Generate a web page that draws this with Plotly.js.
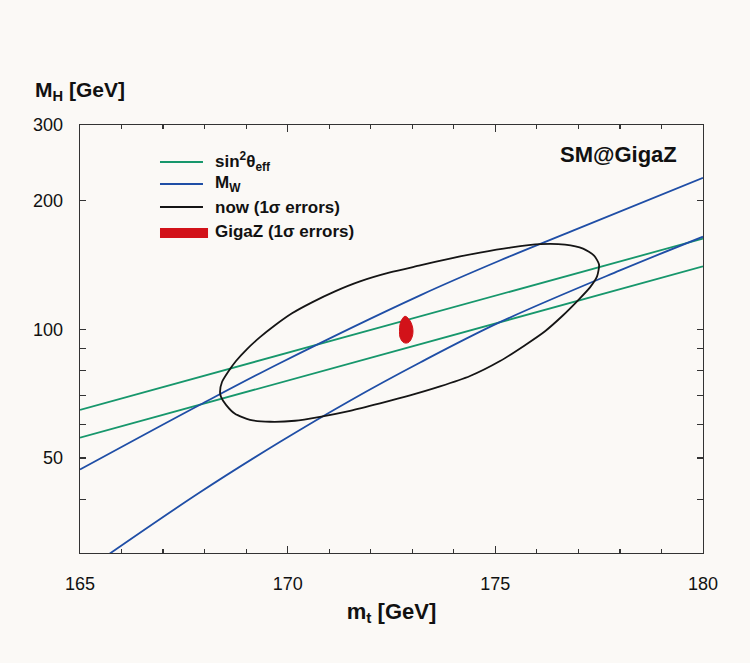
<!DOCTYPE html>
<html>
<head>
<meta charset="utf-8">
<script src="https://cdn.plot.ly/plotly-3.0.1.min.js"></script>
<style>html,body{margin:0;padding:0;background:#fbf9f6;}#chart{width:750px;height:663px;}</style>
</head>
<body>
<div id="chart"></div>
<script>
// m_t [GeV] sample points and M_H [GeV] values
const sinMt = [165, 167.5, 170, 172.5, 175, 177.5, 180];
const sinUpper = [64.8, 75.6, 88.1, 102.7, 119.7, 139.6, 162.8];
const sinLower = [55.8, 65.1, 75.9, 88.4, 103.1, 120.2, 140.2];

const mwUpperMt = [165, 167.89, 169.82, 173.19, 175.11, 176.87, 180];
const mwUpperMH = [47.0, 66.6, 83.4, 120.0, 144.7, 169.9, 225.7];
const mwLowerMt = [165.48, 167.89, 169.82, 171.50, 173.19, 175.11, 178.00, 180];
const mwLowerMH = [28.83, 41.59, 54.58, 68.08, 83.61, 103.87, 137.18, 164.5];

const nowMt = [168.371, 168.419, 168.564, 168.756, 169.021, 169.334, 169.695, 170.105, 170.586, 171.140, 171.742, 172.464, 173.187,
               173.909, 174.631, 175.354, 176.076, 176.678, 177.112, 177.377, 177.497,
               177.449, 177.280, 176.991, 176.606, 176.197, 175.715, 175.113, 174.391, 173.669, 172.946, 172.224, 171.501, 170.779,
               170.177, 169.575, 169.093, 168.732, 168.516, 168.395, 168.371];
const nowMH = [71.38, 75.28, 79.43, 84.26, 89.85, 95.81, 102.16, 108.95, 115.56, 122.58, 129.32, 135.70, 140.89,
               146.27, 151.05, 155.15, 158.09, 157.66, 154.32, 148.62, 141.64,
               132.84, 125.25, 116.81, 107.20, 98.93, 91.79, 84.26, 77.74, 73.50, 70.04, 67.11, 64.47, 62.43,
               61.11, 60.79, 61.41, 63.43, 66.57, 69.49, 71.38];

const gigaMt = [172.826, 172.922, 172.994, 173.018, 172.994, 172.922, 172.850, 172.778, 172.705, 172.693, 172.705, 172.753, 172.826];
const gigaMH = [107.2, 105.5, 102.2, 98.9, 95.8, 93.3, 92.8, 93.3, 95.8, 98.9, 102.7, 105.5, 107.2];

const xTicks = [165, 170, 175, 180];
const xMinorTicks = [166, 167, 168, 169, 171, 172, 173, 174, 176, 177, 178, 179];
const yTicks = [50, 100, 200, 300];
const yMinorTicks = [40, 60, 70, 80, 90];

const legendLabels = ['sin<sup>2</sup>θ<sub>eff</sub>', 'M<sub>W</sub>', 'now (1σ errors)', 'GigaZ (1σ errors)'];

const GREEN = '#17976c', BLUE = '#1f4ea6', BLACK = '#151515', RED = '#d21219';
const FONT = 'Liberation Sans, Arial, Helvetica, sans-serif';

const traces = [
  {x: sinMt, y: sinUpper, mode: 'lines', line: {color: GREEN, width: 1.8}, name: legendLabels[0]},
  {x: sinMt, y: sinLower, mode: 'lines', line: {color: GREEN, width: 1.8}, name: legendLabels[0]},
  {x: mwUpperMt, y: mwUpperMH, mode: 'lines', line: {color: BLUE, width: 1.8, shape: 'spline'}, name: legendLabels[1]},
  {x: mwLowerMt, y: mwLowerMH, mode: 'lines', line: {color: BLUE, width: 1.8, shape: 'spline'}, name: legendLabels[1]},
  {x: nowMt, y: nowMH, mode: 'lines', line: {color: BLACK, width: 1.8, shape: 'spline', smoothing: 0.6}, name: legendLabels[2]},
  {x: gigaMt, y: gigaMH, mode: 'lines', fill: 'toself', fillcolor: RED, line: {color: RED, width: 1, shape: 'spline'}, name: legendLabels[3]}
];

const axisCommon = {
  showgrid: false, zeroline: false, showline: true, linecolor: '#333', linewidth: 1.3,
  mirror: 'ticks', ticks: 'inside', tickcolor: '#333', tickwidth: 1.3,
  tickfont: {family: FONT, size: 18, color: '#111'}
};

// legend keys (decoration) in paper coordinates
const legColors = [GREEN, BLUE, BLACK];
const legRowsY = [0.9136, 0.8621, 0.8084, 0.7523];
const shapes = legColors.map((c, i) => ({
  type: 'line', xref: 'paper', yref: 'paper', x0: 0.1284, x1: 0.1974, y0: legRowsY[i], y1: legRowsY[i],
  line: {color: c, width: 1.8}
}));
shapes.push({type: 'rect', xref: 'paper', yref: 'paper', x0: 0.1284, x1: 0.2055, y0: 0.7360, y1: 0.7593,
  line: {width: 0}, fillcolor: RED});

const annotations = legendLabels.map((t, i) => ({
  text: t, xref: 'paper', yref: 'paper', x: 0.2135, y: legRowsY[i], xanchor: 'left', yanchor: 'middle', showarrow: false,
  font: {family: FONT, size: 17, weight: 'bold', color: '#111'}
}));
annotations.push(
  {text: 'M<sub>H</sub> [GeV]', xref: 'paper', yref: 'paper', x: -0.075, y: 1.08, xanchor: 'left', yanchor: 'middle', showarrow: false,
   font: {family: FONT, size: 21, weight: 'bold', color: '#111'}},
  {text: 'SM@GigaZ', xref: 'paper', yref: 'paper', x: 0.865, y: 0.93, xanchor: 'center', yanchor: 'middle', showarrow: false,
   font: {family: FONT, size: 22, weight: 'bold', color: '#111'}}
);

const layout = {
  width: 750, height: 663,
  margin: {l: 80, r: 47, t: 125, b: 110},
  paper_bgcolor: '#fbf9f6', plot_bgcolor: '#fbf9f6',
  font: {family: FONT, color: '#111'},
  showlegend: false,
  xaxis: Object.assign({}, axisCommon, {
    range: [165, 180], tickmode: 'array', tickvals: xTicks, ticklen: 7,
    ticklabelstandoff: 14,
    minor: {tickmode: 'array', tickvals: xMinorTicks, ticks: 'inside', ticklen: 4, tickcolor: '#333', tickwidth: 1.2},
    title: {text: 'm<sub>t</sub> [GeV]', standoff: 10, font: {family: FONT, size: 22, weight: 'bold', color: '#111'}}
  }),
  yaxis: Object.assign({}, axisCommon, {
    type: 'log', range: [Math.log10(30), Math.log10(300)], tickmode: 'array', tickvals: yTicks, ticktext: yTicks.map(String), ticklen: 6,
    ticklabelstandoff: 12,
    minor: {tickmode: 'array', tickvals: yMinorTicks, ticks: 'inside', ticklen: 6, tickcolor: '#333', tickwidth: 1.2}
  }),
  shapes: shapes,
  annotations: annotations
};

Plotly.newPlot('chart', traces, layout, {staticPlot: true, displayModeBar: false});
</script>
</body>
</html>
